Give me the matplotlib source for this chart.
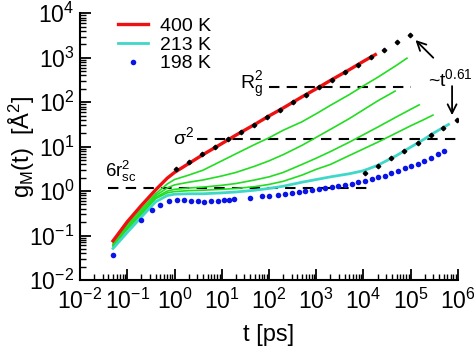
import numpy as np
import matplotlib
matplotlib.use("Agg")
import matplotlib.pyplot as plt
from matplotlib.ticker import LogLocator, FuncFormatter, NullFormatter

plt.rcParams['font.family'] = ['Liberation Sans', 'DejaVu Sans']
plt.rcParams['mathtext.fontset'] = 'custom'
plt.rcParams['mathtext.rm'] = 'Liberation Sans'
plt.rcParams['mathtext.it'] = 'Liberation Sans'
plt.rcParams['mathtext.sf'] = 'Liberation Sans'
plt.rcParams['mathtext.bf'] = 'Liberation Sans:bold'
plt.rcParams['axes.unicode_minus'] = False

# ---- data: mean-square displacement of monomers, g_M(t) [A^2] vs t [ps] ----
t_400 = [0.05, 0.1, 0.2, 0.4, 0.7, 1, 2, 4, 10, 20, 50, 100, 200, 500, 1000, 2000, 5000, 1e4, 1.78e4]
g_400 = [0.076, 0.204, 0.479, 1.07, 1.95, 2.63, 4.17, 6.61, 11.7, 18.2, 31.6, 49.0, 74.1, 132, 200, 309, 537, 832, 1175]

# intermediate temperatures (green)
t_a = [0.05, 0.1, 0.2, 0.4, 0.7, 1, 2, 4, 10, 20, 50, 100, 200, 500, 1000, 2000, 5000, 1e4, 2e4, 5e4, 8.32e4]
g_a = [0.068, 0.174, 0.398, 0.871, 1.445, 1.82, 2.29, 2.95, 4.79, 6.92, 11.2, 15.8, 23.4, 36.3, 55.0, 85.1, 148, 234, 363, 676, 977]

t_b = [0.05, 0.1, 0.2, 0.4, 0.7, 1, 2, 4, 10, 20, 50, 100, 200, 500, 1000, 2000, 5000, 1e4, 2e4, 4.68e4]
g_b = [0.063, 0.158, 0.355, 0.794, 1.175, 1.38, 1.585, 1.778, 2.19, 2.63, 3.63, 4.79, 6.61, 10.7, 16.2, 24.5, 42.7, 67.6, 107, 178]

t_c = [0.05, 0.1, 0.2, 0.4, 0.7, 1, 2, 4, 10, 20, 50, 100, 200, 500, 1000, 2000, 5000, 1e4, 2e4, 5e4, 1e5, 1.51e5]
g_c = [0.060, 0.148, 0.324, 0.724, 1.0, 1.096, 1.175, 1.23, 1.35, 1.48, 1.78, 2.09, 2.63, 3.98, 5.50, 7.76, 12.6, 18.6, 27.5, 46.8, 69.2, 87.1]

t_d = [0.05, 0.1, 0.2, 0.4, 0.7, 1, 2, 4, 10, 20, 50, 100, 200, 500, 1000, 2000, 5000, 1e4, 2e4, 5e4, 1e5, 2e5, 2.95e5]
g_d = [0.0575, 0.138, 0.302, 0.676, 0.912, 0.977, 1.023, 1.047, 1.096, 1.148, 1.259, 1.413, 1.66, 2.29, 3.09, 3.98, 6.31, 8.91, 12.6, 20.4, 29.5, 41.7, 51.3]

# 213 K
t_213 = [0.05, 0.1, 0.2, 0.4, 0.7, 1, 2, 4, 10, 20, 50, 100, 200, 500, 1000, 2000, 5000, 1e4, 2e4, 5e4, 1e5, 2e5, 3e5, 6.31e5]
g_213 = [0.0513, 0.1175, 0.263, 0.575, 0.794, 0.851, 0.871, 0.871, 0.912, 0.955, 1.047, 1.148, 1.288, 1.585, 1.82, 2.09, 2.455, 2.88, 3.80, 6.31, 9.77, 15.1, 20.0, 31.6]

# 198 K
t_198 = [0.05, 0.195, 0.33, 0.49, 0.78, 1.12, 1.58, 2.24, 3.09, 4.27, 5.89, 8.13, 11.0, 14.5, 18.6,
         39.8, 70.8, 102, 158, 219, 302, 427, 589, 813, 1122, 1549, 2138, 2951, 4074, 5623, 7762,
         10715, 14791, 20417, 28184, 38905, 53703, 74131, 102329, 141254, 194984, 269153, 371535, 501187]
g_198 = [0.036, 0.224, 0.372, 0.479, 0.603, 0.631, 0.631, 0.603, 0.589, 0.575, 0.589, 0.603, 0.631, 0.631, 0.661,
         0.708, 0.759, 0.794, 0.832, 0.871, 0.912, 0.955, 1.0, 1.047, 1.122, 1.175, 1.259, 1.318, 1.380, 1.479, 1.585,
         1.698, 1.862, 2.042, 2.239, 2.512, 2.818, 3.236, 3.631, 4.169, 4.786, 5.623, 6.761, 8.128]

# power-law guides ~ t^0.61
fit_exponent = 0.61
t_fit_hi = [1.07, 2.02, 3.8, 7.2, 13.6, 25.6, 48, 91, 171, 323, 608, 1146, 2160, 4070, 7670, 14450, 27230, 51300, 96700]
amp_fit_hi = 2.95
t_fit_lo = [11000, 20400, 38900, 72400, 141000, 263000, 479000, 955000]
amp_fit_lo = 0.00885

# characteristic length scales (horizontal dashed)
g_6rsc2 = 1.19
g_sigma2 = 14.5
g_rg2 = 224

fig = plt.figure(figsize=(4.74, 3.48), dpi=100)
ax = fig.add_axes([0.1688, 0.1954, 0.7974, 0.7664])
ax.set_xscale('log')
ax.set_yscale('log')
ax.set_xlim(1e-2, 1e6)
ax.set_ylim(1e-2, 1e4)

green = '#22dd22'
cyan = '#3fd8c8'

for tt, gg in [(t_a, g_a), (t_b, g_b), (t_c, g_c), (t_d, g_d)]:
    ax.plot(tt, gg, color=green, lw=1.2, zorder=2)
l213, = ax.plot(t_213, g_213, color=cyan, lw=2.0, zorder=3, label='213 K')
l400, = ax.plot(t_400, g_400, color='#ee1111', lw=2.4, zorder=4, label='400 K')
l198, = ax.plot(t_198, g_198, ls='none', marker='o', ms=4, color='#0a14e6', mec='none', zorder=5, label='198 K')

t_hi = np.array(t_fit_hi)
t_lo = np.array(t_fit_lo)
ax.plot(t_hi, amp_fit_hi * t_hi ** fit_exponent, ls='none', marker='D', ms=2.3, color='k', zorder=6)
ax.plot(t_lo, amp_fit_lo * t_lo ** fit_exponent, ls='none', marker='D', ms=2.3, color='k', zorder=6)

dash = dict(color='k', lw=1.5, ls=(0, (5, 3.5)), zorder=1)
ax.plot([0.039, 11700], [g_6rsc2, g_6rsc2], **dash)
ax.plot([3.0, 1e6], [g_sigma2, g_sigma2], **dash)
ax.plot([100, 1e5], [g_rg2, g_rg2], **dash)

ax.text(0.16, 2.75, r'$\mathregular{6r_{sc}^2}$', fontsize=13.5, ha='right', va='center')
ax.text(2.6, 16.5, r'$\mathregular{\sigma^2}$', fontsize=14, ha='right', va='center')
ax.text(75, 240, r'$\mathregular{R_g^2}$', fontsize=14, ha='right', va='center')

ax.text(2.35e5, 330, r'~t$^\mathregular{0.61}$', fontsize=14, ha='left', va='center', clip_on=False)
arrow = dict(arrowstyle='->', lw=1.3, color='k', mutation_scale=16, shrinkA=0, shrinkB=0)
ax.annotate('', xy=(1.26e5, 2500), xytext=(3.0e5, 1000), arrowprops=arrow, annotation_clip=False)
ax.annotate('', xy=(7.5e5, 51), xytext=(7.5e5, 230), arrowprops=arrow, annotation_clip=False)

ax.legend(handles=[l400, l213, l198],
          loc='upper left', bbox_to_anchor=(0.065, 1.035), frameon=False,
          fontsize=14, handlelength=1.55, handletextpad=0.6, labelspacing=0.05,
          numpoints=1, borderpad=0.2)

for s in ['top', 'right']:
    ax.spines[s].set_visible(False)
for s in ['left', 'bottom']:
    ax.spines[s].set_linewidth(1.5)


def decade_label(v, pos):
    e = int(round(np.log10(v)))
    return r'$\mathregular{10^{%d}}$' % e


for axis in (ax.xaxis, ax.yaxis):
    axis.set_major_locator(LogLocator(base=10, numticks=20))
    axis.set_minor_locator(LogLocator(base=10, subs=np.arange(2, 10), numticks=200))
    axis.set_major_formatter(FuncFormatter(decade_label))
    axis.set_minor_formatter(NullFormatter())
ax.tick_params(which='major', direction='in', length=8, width=1.3, labelsize=16.5,
               top=False, right=False)
ax.tick_params(axis='x', which='major', pad=6)
ax.tick_params(axis='y', which='major', pad=4)
ax.tick_params(which='minor', direction='in', length=4, width=1.0, top=False, right=False)

ax.set_xlabel('t [ps]', fontsize=17)
ax.set_ylabel(r'$\mathregular{g_M(t)}$  [Å$^\mathregular{2}$]', fontsize=17)
ax.xaxis.set_label_coords(0.5, -0.165)
ax.yaxis.set_label_coords(-0.115, 0.5)

fig.savefig('out.png', dpi=100)
